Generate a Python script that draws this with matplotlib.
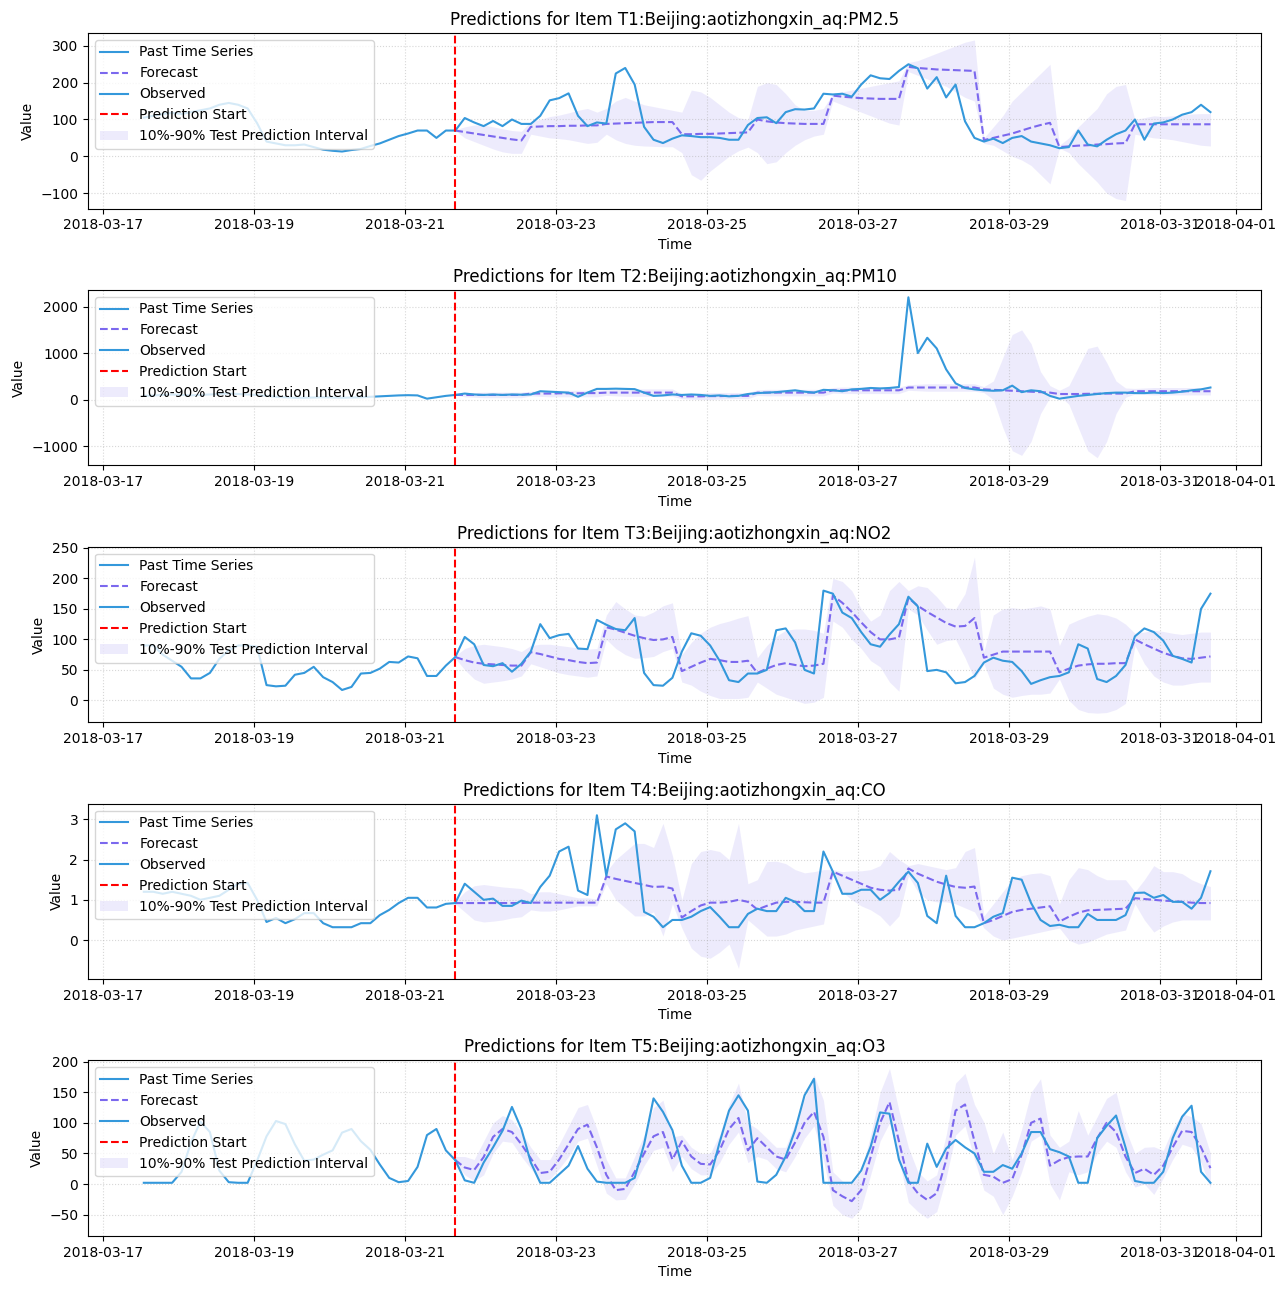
import matplotlib
matplotlib.use("Agg")
import matplotlib.pyplot as plt
import pandas as pd

# timestamps (3-hourly)
past_times = pd.date_range("2018-03-17 13:00", periods=34, freq="3h")
future_times = pd.date_range("2018-03-21 16:00", periods=81, freq="3h")
prediction_start = pd.Timestamp("2018-03-21 16:00")

items = [
    "T1:Beijing:aotizhongxin_aq:PM2.5",
    "T2:Beijing:aotizhongxin_aq:PM10",
    "T3:Beijing:aotizhongxin_aq:NO2",
    "T4:Beijing:aotizhongxin_aq:CO",
    "T5:Beijing:aotizhongxin_aq:O3",
]

# ---- T1 PM2.5
t1_past = [105, 110, 115, 118, 115, 120, 125, 130, 140, 145, 140, 130, 90, 40, 35, 30, 30, 32, 25, 18,
           15, 13, 17, 20, 28, 35, 45, 55, 62, 70, 70, 50, 70, 70]
t1_obs = [70, 104, 92, 82, 96, 82, 100, 88, 88, 110, 152, 158, 171, 110, 82, 92, 89, 225, 240, 195,
          80, 45, 36, 48, 57, 55, 52, 52, 50, 45, 45, 85, 104, 106, 90, 120, 128, 127, 130, 170,
          168, 170, 162, 195, 220, 212, 210, 232, 250, 239, 184, 215, 160, 195, 95, 50, 40, 48, 36, 50,
          55, 40, 35, 30, 22, 25, 70, 32, 27, 45, 60, 70, 100, 45, 89, 92, 100, 113, 120, 140, 120]
t1_fc = [70, 66, 62, 58, 54, 50, 46, 43,
         80, 81, 82, 82, 83, 83, 84, 84,
         88, 89, 90, 91, 92, 93, 93, 93,
         60, 60, 61, 61, 62, 63, 64, 65,
         100, 95, 92, 90, 89, 88, 88, 88,
         165, 162, 160, 158, 157, 156, 156, 156,
         243, 240, 238, 236, 235, 234, 233, 232,
         44, 50, 56, 62, 70, 78, 85, 91,
         25, 27, 29, 30, 32, 33, 35, 36,
         87, 87, 87, 87, 87, 87, 87, 87, 87]
t1_lo = [70, 50, 40, 30, 20, 12, 8, 8,
         60, 55, 50, 48, 45, 40, 35, 38,
         60, 45, 35, 30, 28, 27, 26, 26,
         10, -50, -65, -40, -20, 0, 15, 25,
         10, -20, -15, 10, 30, 45, 55, 60,
         150, 140, 130, 120, 110, 100, 90, 85,
         230, 220, 210, 200, 190, 175, 160, 150,
         35, 30, 15, 0, -10, -25, -50, -75,
         22, 10, -20, -45, -70, -100, -115, -120,
         60, 55, 50, 48, 45, 40, 35, 30, 28]
t1_hi = [72, 80, 85, 85, 80, 75, 70, 68,
         95, 100, 108, 112, 118, 125, 130, 120,
         130, 150, 160, 150, 140, 135, 130, 125,
         120, 180, 175, 160, 140, 120, 105, 100,
         190, 200, 195, 170, 140, 125, 125, 130,
         170, 175, 180, 185, 190, 195, 200, 205,
         255, 260, 270, 280, 290, 300, 310, 316,
         50, 80, 110, 150, 175, 200, 225, 250,
         30, 50, 80, 105, 130, 170, 190, 195,
         100, 105, 110, 108, 110, 112, 115, 116, 116]

# ---- T2 PM10
t2_past = [80, 90, 100, 110, 100, 90, 100, 110, 120, 130, 120, 110, 100, 80, 60, 50, 40, 40, 45, 50,
           45, 40, 45, 50, 60, 70, 80, 90, 95, 90, 20, 50, 80, 100]
t2_obs = [100, 130, 110, 100, 110, 100, 110, 105, 110, 180, 170, 160, 150, 60, 150, 230, 230, 235, 230, 225,
          150, 80, 90, 110, 100, 110, 100, 80, 90, 70, 80, 120, 140, 150, 160, 180, 200, 170, 150, 210,
          200, 180, 220, 230, 250, 240, 250, 270, 2200, 1000, 1330, 1100, 650, 350, 250, 220, 200, 190, 200, 300,
          160, 200, 180, 80, 20, 50, 80, 100, 120, 140, 150, 150, 140, 140, 150, 140, 150, 170, 200, 220, 260]
t2_fc = [100, 100, 100, 100, 100, 100, 100, 100,
         130, 130, 130, 135, 135, 135, 140, 140,
         150, 150, 150, 150, 150, 150, 150, 150,
         70, 70, 70, 75, 75, 80, 80, 80,
         150, 150, 150, 150, 150, 150, 150, 150,
         200, 200, 200, 200, 200, 200, 200, 200,
         260, 260, 260, 260, 260, 260, 260, 260,
         220, 210, 200, 190, 180, 170, 160, 150,
         120, 120, 120, 125, 125, 130, 130, 130,
         180, 180, 180, 180, 180, 180, 180, 180, 180]
t2_lo = [100, 60, 50, 40, 40, 40, 40, 40,
         80, 70, 60, 60, 60, 60, 60, 60,
         90, 80, 70, 70, 70, 70, 70, 70,
         20, 10, 0, 0, 10, 20, 20, 20,
         90, 80, 80, 80, 80, 80, 80, 80,
         140, 130, 130, 130, 130, 130, 130, 130,
         200, 190, 180, 180, 180, 180, 180, 180,
         150, 0, -600, -1100, -1200, -900, -300, 50,
         80, -100, -600, -1100, -1250, -900, -300, 50,
         120, 110, 100, 100, 100, 100, 100, 100, 100]
t2_hi = [100, 140, 150, 160, 160, 160, 160, 160,
         180, 190, 200, 200, 200, 200, 200, 200,
         210, 220, 230, 230, 230, 230, 230, 230,
         120, 130, 140, 150, 150, 150, 150, 150,
         210, 220, 220, 220, 220, 220, 220, 220,
         260, 270, 270, 270, 270, 270, 270, 270,
         320, 330, 340, 340, 340, 340, 340, 340,
         280, 400, 900, 1400, 1500, 1200, 600, 300,
         200, 300, 700, 1100, 1150, 800, 400, 250,
         240, 250, 260, 260, 260, 260, 260, 260, 260]

# ---- T3 NO2
t3_past = [90, 90, 75, 65, 55, 36, 36, 45, 68, 82, 90, 90, 88, 25, 23, 24, 42, 45, 55, 38,
           30, 17, 22, 44, 45, 52, 63, 62, 72, 69, 40, 40, 57, 71]
t3_obs = [71, 104, 92, 58, 56, 61, 47, 60, 80, 125, 102, 107, 109, 85, 84, 132, 124, 117, 115, 135,
          45, 25, 24, 37, 80, 110, 106, 90, 65, 33, 30, 44, 44, 50, 115, 118, 95, 50, 44, 180,
          175, 144, 135, 112, 92, 88, 108, 125, 170, 154, 48, 50, 46, 28, 30, 40, 62, 70, 65, 63,
          48, 27, 33, 38, 40, 46, 92, 85, 35, 30, 40, 58, 105, 118, 112, 98, 73, 68, 62, 150, 175]
t3_fc = [71, 66, 62, 60, 59, 58, 57, 57,
         79, 76, 72, 68, 66, 63, 61, 62,
         120, 116, 111, 106, 102, 99, 100, 104,
         48, 55, 62, 68, 66, 63, 63, 65,
         45, 52, 58, 61, 58, 56, 57, 60,
         172, 160, 145, 128, 112, 100, 100, 103,
         168, 155, 145, 136, 127, 121, 122, 135,
         70, 75, 80, 80, 80, 80, 80, 80,
         46, 52, 57, 59, 60, 60, 61, 61,
         100, 92, 85, 78, 73, 69, 68, 70, 72]
t3_lo = [69, 50, 35, 28, 30, 32, 35, 40,
         60, 55, 50, 45, 42, 40, 38, 40,
         100, 85, 75, 69, 70, 72, 80, 85,
         30, 25, 15, 8, 3, 3, 3, 5,
         30, 20, 10, 5, 0, -5, -3, 5,
         130, 120, 100, 85, 65, 55, 30, 15,
         150, 140, 115, 92, 98, 100, 70, 35,
         60, 20, 10, 5, 8, 10, 10, 12,
         35, 0, -15, -20, -21, -20, -15, -5,
         90, 60, 40, 30, 25, 25, 28, 30, 30]
t3_hi = [73, 85, 90, 92, 90, 88, 85, 80,
         90, 92, 92, 90, 88, 86, 84, 85,
         140, 162, 150, 140, 138, 145, 155, 160,
         75, 95, 110, 120, 126, 130, 135, 139,
         70, 90, 105, 115, 117, 117, 115, 110,
         200, 195, 180, 150, 130, 140, 180, 195,
         180, 188, 185, 170, 152, 150, 175, 235,
         80, 140, 150, 152, 150, 152, 155, 150,
         90, 125, 132, 138, 142, 140, 135, 125,
         110, 112, 115, 113, 110, 108, 110, 112, 112]

# ---- T4 CO
t4_past = [1.2, 1.2, 1.15, 1.2, 1.15, 1.1, 1.0, 1.05, 1.1, 1.25, 1.4, 1.42, 1.0, 0.45, 0.55, 0.42, 0.52,
           0.67, 0.67, 0.42, 0.32, 0.32, 0.32, 0.42, 0.42, 0.62, 0.75, 0.92, 1.05, 1.05, 0.81, 0.81, 0.9, 0.92]
t4_obs = [0.92, 1.4, 1.2, 1.0, 1.03, 0.85, 0.85, 0.98, 0.92, 1.32, 1.6, 2.2, 2.32, 1.23, 1.12, 3.1, 1.6,
          2.75, 2.9, 2.7, 0.7, 0.58, 0.32, 0.5, 0.5, 0.58, 0.72, 0.82, 0.58, 0.32, 0.32, 0.65, 0.78, 0.72,
          0.72, 1.05, 0.95, 0.72, 0.72, 2.2, 1.7, 1.15, 1.15, 1.25, 1.25, 1.0, 1.17, 1.45, 1.7, 1.42,
          0.6, 0.42, 1.6, 0.6, 0.32, 0.32, 0.42, 0.58, 0.67, 1.55, 1.5, 0.92, 0.5, 0.35, 0.38, 0.32, 0.32,
          0.65, 0.5, 0.5, 0.5, 0.62, 1.17, 1.18, 1.05, 1.12, 0.95, 0.95, 0.78, 1.05, 1.71]
t4_fc = [0.92, 0.92, 0.92, 0.92, 0.92, 0.92, 0.92, 0.92,
         0.93, 0.93, 0.93, 0.93, 0.93, 0.93, 0.93, 0.93,
         1.58, 1.52, 1.47, 1.42, 1.37, 1.32, 1.33, 1.28,
         0.56, 0.72, 0.86, 0.93, 0.93, 0.95, 1.0, 0.95,
         0.76, 0.85, 0.93, 0.95, 0.95, 0.94, 0.93, 0.93,
         1.7, 1.6, 1.5, 1.4, 1.3, 1.25, 1.23, 1.25,
         1.78, 1.65, 1.55, 1.45, 1.38, 1.32, 1.3, 1.33,
         0.42, 0.5, 0.6, 0.7, 0.75, 0.78, 0.81, 0.84,
         0.46, 0.58, 0.68, 0.74, 0.75, 0.76, 0.77, 0.78,
         1.04, 1.02, 1.0, 0.98, 0.97, 0.95, 0.93, 0.92, 0.92]
t4_lo = [0.9, 0.7, 0.5, 0.45, 0.47, 0.5, 0.55, 0.58,
         0.75, 0.72, 0.72, 0.75, 0.8, 0.85, 0.85, 0.85,
         1.4, 1.0, 0.8, 0.6, 0.6, 0.7, 0.1, 0.9,
         0.3, -0.2, -0.4, -0.45, -0.3, -0.1, -0.7, 0.5,
         0.3, 0.1, 0.1, 0.15, 0.25, 0.3, 0.35, 0.4,
         1.6, 1.2, 1.0, 0.85, 0.75, 0.6, 0.35, 0.6,
         1.6, 1.2, 1.0, 0.95, 0.95, 0.9, 0.8, 0.7,
         0.3, 0.1, 0.0, 0.05, 0.1, 0.15, 0.2, 0.25,
         0.3, 0.0, -0.1, -0.05, 0.05, 0.15, 0.2, 0.25,
         0.9, 0.5, 0.2, 0.35, 0.45, 0.5, 0.5, 0.5, 0.5]
t4_hi = [0.95, 1.2, 1.35, 1.38, 1.35, 1.32, 1.3, 1.28,
         1.15, 1.2, 1.2, 1.15, 1.1, 1.05, 1.05, 1.02,
         1.7, 2.0, 2.2, 2.4, 2.4, 2.3, 2.9, 2.1,
         1.0, 1.9, 2.2, 2.25, 2.2, 2.0, 2.9, 1.4,
         1.5, 1.95, 1.96, 1.9, 1.75, 1.67, 1.7, 1.75,
         1.75, 1.7, 1.72, 1.72, 1.75, 1.85, 2.2, 2.0,
         1.85, 1.9, 1.85, 1.8, 1.75, 1.8, 2.2, 2.3,
         0.6, 0.9, 1.2, 1.5, 1.6, 1.65, 1.67, 1.6,
         0.9, 1.5, 1.8, 1.75, 1.6, 1.5, 1.5, 1.5,
         1.2, 1.5, 1.85, 1.7, 1.7, 1.65, 1.5, 1.4, 1.33]

# ---- T5 O3
t5_past = [2, 2, 2, 2, 20, 68, 102, 85, 22, 3, 2, 2, 38, 78, 103, 98, 65, 38, 40, 48,
           55, 84, 90, 70, 56, 32, 10, 3, 5, 28, 80, 90, 55, 39]
t5_obs = [39, 6, 2, 35, 60, 87, 126, 90, 35, 2, 2, 16, 30, 62, 25, 4, 2, 2, 2, 10,
          65, 140, 118, 88, 30, 2, 2, 10, 68, 120, 145, 120, 4, 2, 15, 45, 88, 145, 172, 2,
          2, 2, 2, 22, 61, 117, 115, 40, 2, 2, 66, 28, 58, 72, 60, 50, 20, 20, 31, 25,
          50, 85, 85, 57, 52, 45, 2, 2, 75, 95, 112, 60, 5, 2, 2, 20, 75, 110, 128, 20, 2]
t5_fc = [39, 27, 23, 44, 77, 90, 85, 65,
         42, 18, 20, 40, 65, 90, 97, 60,
         15, -10, -8, 20, 50, 78, 85, 40,
         70, 45, 33, 32, 55, 90, 108, 55,
         75, 60, 45, 40, 68, 100, 118, 77,
         -10, -20, -28, -10, 44, 100, 134, 70,
         5, -15, -26, -15, 39, 120, 130, 70,
         15, 12, 2, 8, 48, 100, 107, 30,
         39, 44, 45, 45, 75, 100, 85, 45,
         18, 25, 15, 30, 60, 87, 85, 60, 26]
t5_lo = [35, 15, 5, 15, 50, 70, 68, 45,
         25, 5, 8, 25, 45, 70, 75, 30,
         -15, -26, -25, 0, 30, 55, 60, 20,
         45, 25, 15, 15, 35, 65, 85, 35,
         45, 40, 25, 20, 45, 75, 95, 40,
         -35, -50, -56, -40, 15, 70, 100, 40,
         -30, -45, -56, -45, 10, 80, 95, 40,
         -10, -20, -50, -20, 20, 70, 80, 0,
         -26, 20, 15, 20, 50, 70, 60, 20,
         -5, 0, -17, 10, 40, 65, 60, 35, -6]
t5_hi = [45, 45, 40, 70, 100, 112, 105, 85,
         60, 40, 40, 65, 95, 125, 130, 90,
         40, 10, 10, 45, 80, 125, 137, 77,
         80, 60, 50, 50, 80, 130, 165, 100,
         90, 75, 60, 60, 100, 140, 178, 137,
         20, 5, 0, 20, 80, 150, 189, 120,
         60, 20, 5, 15, 80, 165, 181, 130,
         101, 50, 85, 40, 90, 150, 172, 80,
         60, 70, 120, 80, 110, 140, 150, 90,
         50, 60, 61, 55, 90, 115, 110, 99, 50]

past_list = [t1_past, t2_past, t3_past, t4_past, t5_past]
obs_list = [t1_obs, t2_obs, t3_obs, t4_obs, t5_obs]
fc_list = [t1_fc, t2_fc, t3_fc, t4_fc, t5_fc]
lo_list = [t1_lo, t2_lo, t3_lo, t4_lo, t5_lo]
hi_list = [t1_hi, t2_hi, t3_hi, t4_hi, t5_hi]
ylims = [(-142, 335), (-1416, 2360), (-36, 252), (-0.97, 3.39), (-85, 202)]

line_color = "#3498db"
fc_color = "mediumslateblue"

fig, axes = plt.subplots(5, 1, figsize=(12.86, 12.89))
fig.subplots_adjust(left=0.0684, right=0.9806, top=0.9744, bottom=0.0411, hspace=0.463)

for i, ax in enumerate(axes):
    ax.plot(past_times, past_list[i], color=line_color, lw=1.5, label="Past Time Series")
    ax.plot(future_times, fc_list[i], color=fc_color, lw=1.5, linestyle="--", label="Forecast")
    ax.plot(future_times, obs_list[i], color=line_color, lw=1.5, label="Observed")
    ax.axvline(prediction_start, color="red", linestyle="--", lw=1.5, label="Prediction Start")
    ax.fill_between(future_times, lo_list[i], hi_list[i], color=fc_color, alpha=0.13,
                    linewidth=0, label="10%-90% Test Prediction Interval")
    ax.set_title(f"Predictions for Item {items[i]}", fontsize=12)
    ax.set_xlabel("Time")
    ax.set_ylabel("Value")
    ax.set_xlim(pd.Timestamp("2018-03-16 19:15"), pd.Timestamp("2018-04-01 08:05"))
    ax.set_ylim(*ylims[i])
    ax.grid(True, linestyle=":", alpha=0.5)
    ax.legend(loc="upper left")

fig.savefig("out.png", dpi=100)
